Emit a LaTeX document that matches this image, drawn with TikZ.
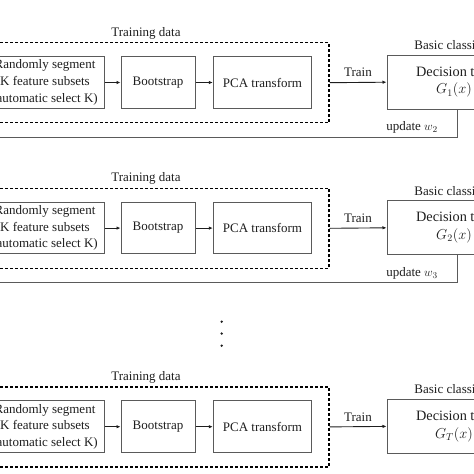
\documentclass[tikz,border=0pt]{standalone}
\usepackage{fontspec}
\setmainfont{Liberation Serif}
\usepackage{tikz}
\usetikzlibrary{arrows.meta}

\definecolor{boxgray}{HTML}{5A5A5A}
\definecolor{inkgray}{HTML}{1E1E1E}

\begin{document}
\begin{tikzpicture}[x=1pt, y=-1pt,
    every node/.style={text=inkgray, font=\fontsize{13}{16.7}\selectfont},
    stagebox/.style={draw=boxgray, line width=1pt, inner sep=0pt, align=center,
                     minimum height=51.6pt},
    databox/.style={draw=black, line width=1.3pt, dash pattern=on 3pt off 2pt,
                    inner sep=0pt, minimum width=349pt, minimum height=80pt},
    treebox/.style={draw=boxgray, line width=1pt, inner sep=0pt, align=center,
                    minimum width=134pt, minimum height=54.3pt,
                    font=\fontsize{14.3}{17.7}\selectfont},
    flow/.style={draw=inkgray, line width=0.9pt, -{Latex[length=4pt, width=3.5pt]}},
    feedback/.style={draw=boxgray, line width=1pt}]
    \useasboundingbox (0, 0) rectangle (474, 474);
    \clip (0, 0) rectangle (474, 474);

    \foreach \r/\dy/\g in {1/0/1, 2/145.6/2, 3/344.2/T} {
      \begin{scope}[shift={(0, \dy)}]
        \node[databox] (data\r) at (154.5, 82.7) {};
        \node (lbl\r) at (146, 33) {Training data};
        \node[stagebox, minimum width=118pt] (seg\r) at (45, 82.5)
          {Randomly segment\\K feature subsets\\(automatic select K)};
        \node[stagebox, minimum width=74pt] (boot\r) at (158, 82.5) {Bootstrap};
        \node[stagebox, minimum width=98.4pt] (pca\r) at (262.5, 82.5) {PCA transform};
        \node[treebox] (tree\r) at (454, 82.2) {Decision tree\\$G_{\g}(x)$};
        \node (cls\r) at (454, 45) {Basic classifier};
        \node (train\r) at (358, 72.7) {Train};

        \draw[flow] (seg\r) -- (boot\r);
        \draw[flow] (boot\r) -- (pca\r);
        \draw[flow] (data\r.east) -- (tree\r.west);

        \ifnum\r<3
          \pgfmathtruncatemacro\nxt{\r+1}
          \coordinate (back\r) at (-20, 137.3);
          \draw[feedback] ([xshift=3pt]tree\r.south) |- (back\r);
          \node (upd\r) at (412, 127.5) {update $w_{\nxt}$};
        \fi
      \end{scope}
    }

    % dots between the second and the last round
    \foreach \y in {321.7, 333.5, 345.7}
      \fill[inkgray] (221.7, \y) circle (1.3);
\end{tikzpicture}
\end{document}
